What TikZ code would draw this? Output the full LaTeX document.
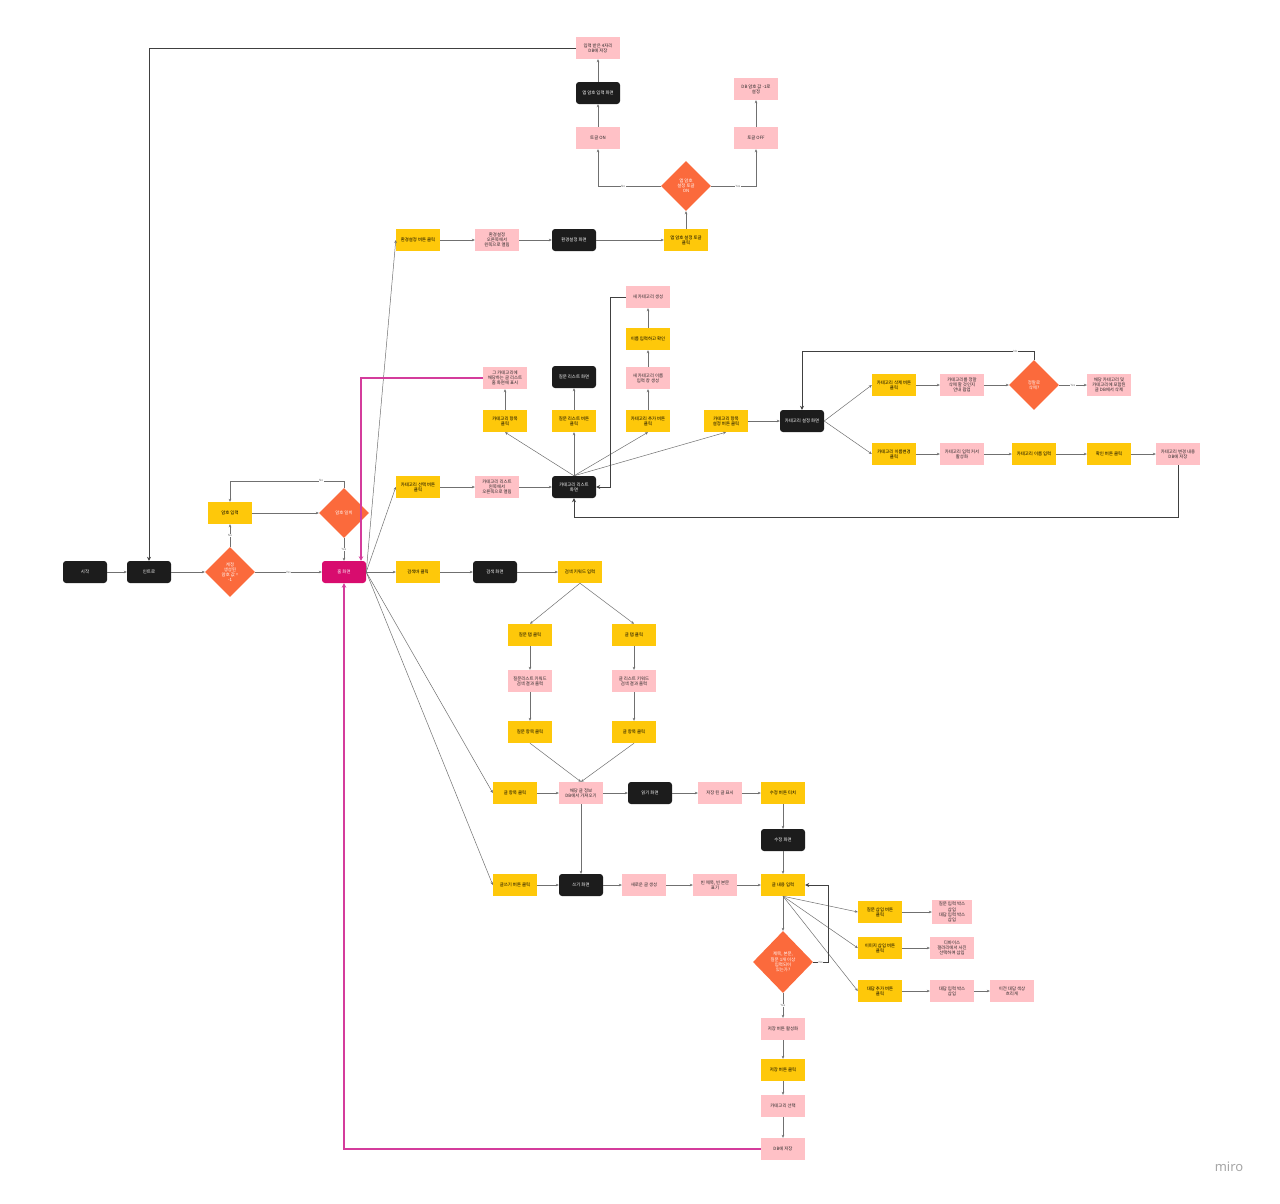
\documentclass[tikz,border=0pt]{standalone}
\usepackage{fontspec}
\newfontfamily\kr{Noto Sans CJK KR}
\newfontfamily\lat{Noto Sans}
\usetikzlibrary{shapes.geometric,arrows.meta}
\definecolor{myyel}{HTML}{FEC80A}
\definecolor{mypink}{HTML}{FFC1C6}
\definecolor{myblk}{HTML}{1C1C1C}
\definecolor{myorg}{HTML}{FB6A3C}
\definecolor{mymag}{HTML}{D80C6E}
\definecolor{mymagl}{HTML}{D43C9C}
\definecolor{mygray}{HTML}{707070}
\begin{document}
\begin{tikzpicture}[x=1pt,y=-1pt,
 base/.style={font=\kr\fontsize{4.4}{5.2}\selectfont, align=center, inner sep=0.5pt, minimum width=44pt, minimum height=22pt},
 ybox/.style={base, fill=myyel, text=black},
 pbox/.style={base, fill=mypink, text=black!85},
 kbox/.style={base, fill=myblk, text=white, rounded corners=3pt},
 hbox/.style={base, fill=mymag, text=white, rounded corners=3pt},
 dia/.style={diamond, fill=myorg, text=white, font=\kr\fontsize{4.4}{5.2}\selectfont, align=center, inner sep=0pt, minimum width=50pt, minimum height=50pt},
 conn/.style={draw=mygray, line width=0.5pt, -{Stealth[length=3pt,width=2.6pt]}},
 bconn/.style={draw=black!75, line width=1pt, -{Stealth[length=4pt,width=4pt]}},
 mconn/.style={draw=mymagl, line width=1.1pt, -{Stealth[length=4.5pt,width=4.5pt]}},
 lbl/.style={font=\lat\fontsize{3}{3}\selectfont, fill=white, inner sep=0.4pt, text=mygray}
]
\useasboundingbox[fill=white] (0,0) rectangle (1280,1203);

% ---- top: settings
\node[pbox] (inputDB) at (598,48) {입력 받은 4자리\\DB에 저장};
\node[kbox] (pwscreen) at (598,93) {앱 암호 입력 화면};
\node[pbox] (toggleOn) at (598,138) {토글 ON};
\node[pbox] (dbm1) at (756,89) {DB 암호 값 -1로\\설정};
\node[pbox] (toggleOff) at (756,138) {토글 OFF};
\node[dia] (dtoggle) at (686,186) {앱 암호\\설정 토글\\ON};
\node[ybox] (toggleClick) at (686,240) {앱 암호 설정 토글\\클릭};
\node[kbox] (envScreen) at (574,240) {환경설정 화면};
\node[pbox] (envOpen) at (497,240) {환경설정\\오른쪽에서\\왼쪽으로 열림};
\node[ybox] (envBtn) at (418,240) {환경설정 버튼 클릭};

% ---- left
\node[kbox] (start) at (85,572) {시작};
\node[kbox] (intro) at (149,572) {인트로};
\node[dia] (dpw) at (230,572) {계정\\생성된\\암호 값 =\\-1};
\node[ybox] (pwInput) at (230,513) {암호 입력};
\node[dia] (dmatch) at (344,513) {암호 일치};
\node[hbox] (home) at (344,572) {홈 화면};

% ---- category
\node[ybox] (catBtn) at (418,487) {카테고리 선택 버튼\\클릭};
\node[pbox] (catOpen) at (497,487) {카테고리 리스트\\왼쪽에서\\오른쪽으로 열림};
\node[kbox] (catList) at (574,487) {카테고리 리스트\\화면};
\node[ybox] (catItem) at (505,421) {카테고리 항목\\클릭};
\node[pbox] (catShow) at (505,378) {그 카테고리에\\해당하는 글 리스트\\홈 화면에 표시};
\node[ybox] (qBtn) at (574,421) {질문 리스트 버튼\\클릭};
\node[kbox] (qScreen) at (574,377) {질문 리스트 화면};
\node[ybox] (catAdd) at (648,421) {카테고리 추가 버튼\\클릭};
\node[pbox] (catNameIn) at (648,378) {새 카테고리 이름\\입력 창 생성};
\node[ybox] (nameOK) at (648,339) {이름 입력하고 확인};
\node[pbox] (catNew) at (648,297) {새 카테고리 생성};
\node[ybox] (catSetBtn) at (726,421) {카테고리 항목\\설정 버튼 클릭};
\node[kbox] (catSet) at (802,421) {카테고리 설정 화면};
\node[ybox] (catDel) at (894,385) {카테고리 삭제 버튼\\클릭};
\node[pbox] (delPop) at (962,385) {카테고리를 정말\\삭제 할 것인지\\안내 팝업};
\node[dia] (dDel) at (1034,385) {정말로\\삭제?};
\node[pbox] (delDone) at (1109,385) {해당 카테고리 및\\카테고리에 포함된\\글 DB에서 삭제};
\node[ybox] (catRen) at (894,454) {카테고리 이름변경\\클릭};
\node[pbox] (renCursor) at (962,454) {카테고리 입력 커서\\활성화};
\node[ybox] (renIn) at (1034,454) {카테고리 이름 입력};
\node[ybox] (renOK) at (1109,454) {확인 버튼 클릭};
\node[pbox] (renSave) at (1178,454) {카테고리 변경 내용\\DB에 저장};

% ---- search
\node[ybox] (searchBar) at (418,572) {검색바 클릭};
\node[kbox] (searchScr) at (495,572) {검색 화면};
\node[ybox] (keyword) at (580,572) {검색 키워드 입력};
\node[ybox] (qTab) at (530,635) {질문 탭 클릭};
\node[ybox] (gTab) at (634,635) {글 탭 클릭};
\node[pbox] (qRes) at (530,681) {질문리스트 키워드\\검색 결과 출력};
\node[pbox] (gRes) at (634,681) {글 리스트 키워드\\검색 결과 출력};
\node[ybox] (qItem) at (530,732) {질문 항목 클릭};
\node[ybox] (gItem) at (634,732) {글 항목 클릭};

% ---- read / write
\node[ybox] (postItem) at (515,793) {글 항목 클릭};
\node[pbox] (getInfo) at (581,793) {해당 글 정보\\DB에서 가져오기};
\node[kbox] (readScr) at (650,793) {읽기 화면};
\node[pbox] (showSaved) at (720,793) {저장 된 글 표시};
\node[ybox] (editBtn) at (783,793) {수정 버튼 터치};
\node[kbox] (editScr) at (783,840) {수정 화면};
\node[ybox] (writeBtn) at (515,885) {글쓰기 버튼 클릭};
\node[kbox] (writeScr) at (581,885) {쓰기 화면};
\node[pbox] (newPost) at (644,885) {새로운 글 생성};
\node[pbox] (blank) at (715,885) {빈 제목, 빈 본문\\표기};
\node[ybox] (content) at (783,885) {글 내용 입력};

\node[ybox] (qIns) at (880,912) {질문 삽입 버튼\\클릭};
\node[pbox, minimum width=40pt, minimum height=24pt] (qInsR) at (952,912) {질문 입력 박스\\삽입\\대답 입력 박스\\삽입};
\node[ybox] (imgIns) at (880,948) {이미지 삽입 버튼\\클릭};
\node[pbox] (imgInsR) at (952,948) {디바이스\\갤러리에서 사진\\선택하여 삽입};
\node[ybox] (ansAdd) at (880,991) {대답 추가 버튼\\클릭};
\node[pbox] (ansBox) at (952,991) {대답 입력 박스\\삽입};
\node[pbox] (ansDim) at (1012,991) {이전 대답 색상\\흐리게};
\node[dia, minimum width=60pt, minimum height=62pt] (dCheck) at (783,962) {제목, 본문,\\질문 1개 이상\\입력되어\\있는가?};
\node[pbox] (saveAct) at (783,1029) {저장 버튼 활성화};
\node[ybox] (saveBtn) at (783,1070) {저장 버튼 클릭};
\node[pbox] (catSel) at (783,1106) {카테고리 선택};
\node[pbox] (dbSave) at (783,1149) {DB에 저장};

\node[font=\lat\fontsize{13}{13}\selectfont, text=black!35] (miro) at (1229,1167) {miro};

% ===== connectors
\draw[conn] (start) -- (intro);
\draw[conn] (intro) -- (dpw);
\draw[conn] (dpw) -- node[lbl]{Yes} (home);
\draw[conn] (dpw) -- node[lbl]{No} (pwInput);
\draw[conn] (pwInput) -- (dmatch);
\draw[conn] (dmatch.north) -- ++(0,-7) -| node[lbl, pos=0.1]{No} (pwInput.north);
\draw[conn] (dmatch) -- node[lbl]{Yes} (home);

\draw[conn] (home.east) -- (envBtn.west);
\draw[conn] (home.east) -- (catBtn.west);
\draw[conn] (home) -- (searchBar);
\draw[conn] (home.east) -- (postItem.west);
\draw[conn] (home.east) -- (writeBtn.west);

\draw[conn] (envBtn) -- (envOpen);
\draw[conn] (envOpen) -- (envScreen);
\draw[conn] (envScreen) -- (toggleClick);
\draw[conn] (toggleClick) -- (dtoggle);
\draw[conn] (dtoggle.west) -| node[lbl, pos=0.3]{No} (toggleOn.south);
\draw[conn] (dtoggle.east) -| node[lbl, pos=0.3]{Yes} (toggleOff.south);
\draw[conn] (toggleOn) -- (pwscreen);
\draw[conn] (pwscreen) -- (inputDB);
\draw[conn] (toggleOff) -- (dbm1);
\draw[bconn] (inputDB.west) -| (intro.north);

\draw[conn] (catBtn) -- (catOpen);
\draw[conn] (catOpen) -- (catList);
\draw[conn] (catList.north) -- (catItem.south);
\draw[conn] (catList.north) -- (qBtn.south);
\draw[conn] (catList.north) -- (catAdd.south);
\draw[conn] (catList.north) -- (catSetBtn.south);
\draw[conn] (catItem) -- (catShow);
\draw[conn] (qBtn) -- (qScreen);
\draw[conn] (catAdd) -- (catNameIn);
\draw[conn] (catNameIn) -- (nameOK);
\draw[conn] (nameOK) -- (catNew);
\draw[bconn] (catNew.west) -- ++(-15,0) |- (catList.east);
\draw[conn] (catSetBtn) -- (catSet);
\draw[conn] (catSet.east) -- (catDel.west);
\draw[conn] (catSet.east) -- (catRen.west);
\draw[conn] (catDel) -- (delPop);
\draw[conn] (delPop) -- (dDel);
\draw[conn] (dDel) -- node[lbl]{Yes} (delDone);
\draw[bconn] (dDel.north) -- ++(0,-8) -| node[lbl, pos=0.04]{No} (catSet.north);
\draw[conn] (catRen) -- (renCursor);
\draw[conn] (renCursor) -- (renIn);
\draw[conn] (renIn) -- (renOK);
\draw[conn] (renOK) -- (renSave);
\draw[bconn] (renSave.south) -- ++(0,52) -| (catList.south);
\draw[mconn] (catShow.west) -| ([xshift=17pt]home.north);

\draw[conn] (searchBar) -- (searchScr);
\draw[conn] (searchScr) -- (keyword);
\draw[conn] (keyword.south) -- (qTab.north);
\draw[conn] (keyword.south) -- (gTab.north);
\draw[conn] (qTab) -- (qRes);
\draw[conn] (qRes) -- (qItem);
\draw[conn] (gTab) -- (gRes);
\draw[conn] (gRes) -- (gItem);
\draw[conn] (qItem.south) -- (getInfo.north);
\draw[conn] (gItem.south) -- (getInfo.north);

\draw[conn] (postItem) -- (getInfo);
\draw[conn] (getInfo) -- (readScr);
\draw[conn] (readScr) -- (showSaved);
\draw[conn] (showSaved) -- (editBtn);
\draw[conn] (editBtn) -- (editScr);
\draw[conn] (editScr) -- (content);
\draw[conn] (getInfo) -- (writeScr);
\draw[conn] (writeBtn) -- (writeScr);
\draw[conn] (writeScr) -- (newPost);
\draw[conn] (newPost) -- (blank);
\draw[conn] (blank) -- (content);

\draw[conn] (content.south) -- (qIns.west);
\draw[conn] (content.south) -- (imgIns.west);
\draw[conn] (content.south) -- (ansAdd.west);
\draw[conn] (qIns) -- (qInsR);
\draw[conn] (imgIns) -- (imgInsR);
\draw[conn] (ansAdd) -- (ansBox);
\draw[conn] (ansBox) -- (ansDim);
\draw[conn] (content) -- (dCheck);
\draw[bconn] (dCheck.east) -- node[lbl, pos=0.5]{No} ++(15,0) |- (content.east);
\draw[conn] (dCheck) -- node[lbl]{Yes} (saveAct);
\draw[conn] (saveAct) -- (saveBtn);
\draw[conn] (saveBtn) -- (catSel);
\draw[conn] (catSel) -- (dbSave);
\draw[mconn] (dbSave.west) -| (home.south);
\end{tikzpicture}
\end{document}
